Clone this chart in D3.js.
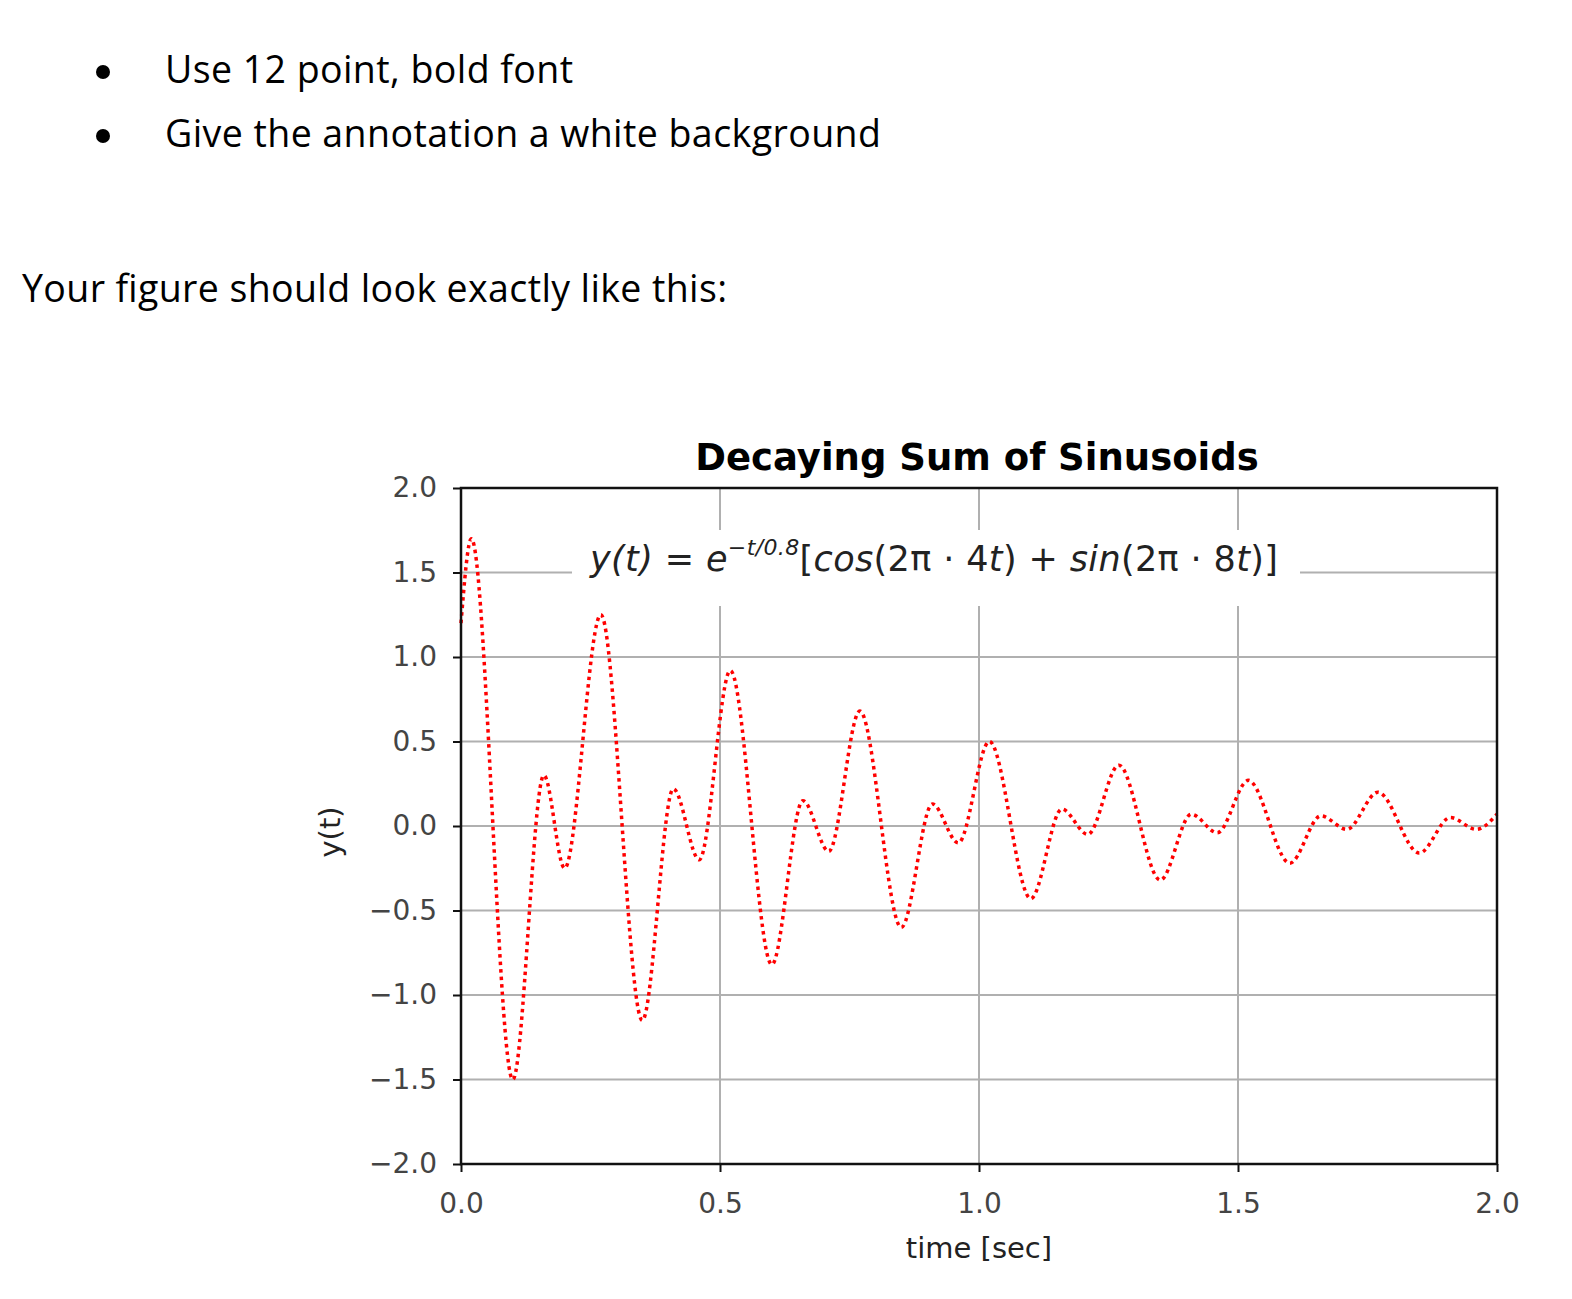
<!DOCTYPE html>
<html>
<head>
<meta charset="utf-8">
<script src="https://cdn.jsdelivr.net/npm/d3@7"></script>
<style>
  body { margin: 0; background: #fff; }
</style>
</head>
<body>
<div class="canvas"></div>
<script>
// Values (peaks and troughs of the curve)
const times = [0, 0.02, 0.1, 0.16, 0.2, 0.27, 0.35, 0.41, 0.46, 0.52, 0.6, 0.66, 0.71, 0.77, 0.85,
  0.91, 0.96, 1.02, 1.1, 1.16, 1.21, 1.27, 1.35, 1.41, 1.46, 1.52, 1.6, 1.66, 1.71, 1.77, 1.85,
  1.91, 1.96, 2.0];
const values = [1.2, 1.7, -1.5, 0.3, -0.25, 1.25, -1.15, 0.22, -0.2, 0.92, -0.82, 0.15, -0.15, 0.68, -0.6,
  0.13, -0.1, 0.5, -0.43, 0.1, -0.05, 0.36, -0.32, 0.07, -0.04, 0.27, -0.22, 0.06, -0.02, 0.2, -0.16,
  0.05, -0.02, 0.07];
const xTicks = [0, 0.5, 1.0, 1.5, 2.0];
const yTicks = [2.0, 1.5, 1.0, 0.5, 0.0, -0.5, -1.0, -1.5, -2.0];
const bullets = ['Use 12 point, bold font', 'Give the annotation a white background'];

const svg = d3.select('.canvas').append('svg')
  .attr('width', 1572)
  .attr('height', 1299);

const textFont = "'Open Sans', 'Liberation Sans', sans-serif";

// Document text above the figure
bullets.forEach((b, i) => {
  svg.append('circle')
    .attr('cx', 103).attr('cy', 72 + i * 64).attr('r', 7).attr('fill', '#000');
  svg.append('text')
    .attr('x', 165).attr('y', 83 + i * 64)
    .style('font-family', textFont).style('font-size', '37.5px')
    .attr('textLength', i === 0 ? 408 : 716)
    .text(b);
});
svg.append('text')
  .attr('x', 22).attr('y', 302)
  .style('font-family', textFont).style('font-size', '37.5px')
  .attr('textLength', 705)
  .text('Your figure should look exactly like this:');

// Chart
const x = d3.scaleLinear().domain([0, 2]).range([461, 1497]);
const y = d3.scaleLinear().domain([-2, 2]).range([1164, 488]);
const tickFont = "'DejaVu Sans', sans-serif";
const fmt = d3.format('.1f');

// Grid
svg.append('g').selectAll('line').data(xTicks).join('line')
  .attr('x1', d => x(d)).attr('x2', d => x(d))
  .attr('y1', 488).attr('y2', 1164)
  .attr('stroke', '#b0b0b0').attr('stroke-width', 2);
svg.append('g').selectAll('line').data(yTicks).join('line')
  .attr('x1', 461).attr('x2', 1497)
  .attr('y1', d => y(d)).attr('y2', d => y(d))
  .attr('stroke', '#b0b0b0').attr('stroke-width', 2);

// Annotation with white background
svg.append('rect')
  .attr('x', 572).attr('y', 530).attr('width', 728).attr('height', 76)
  .attr('fill', '#fff');
const ann = svg.append('text')
  .attr('x', 590).attr('y', 571)
  .style('font-family', "'DejaVu Sans', sans-serif").style('font-size', '35px')
  .attr('fill', '#222')
  .attr('textLength', 688);
ann.append('tspan').style('font-style', 'italic').text('y(t)');
ann.append('tspan').text(' = ');
ann.append('tspan').style('font-style', 'italic').text('e');
ann.append('tspan').attr('dy', -16).style('font-size', '22px').style('font-style', 'italic').text('−t/0.8');
ann.append('tspan').attr('dy', 16).text('[');
ann.append('tspan').style('font-style', 'italic').text('cos');
ann.append('tspan').text('(2π · 4');
ann.append('tspan').style('font-style', 'italic').text('t');
ann.append('tspan').text(') + ');
ann.append('tspan').style('font-style', 'italic').text('sin');
ann.append('tspan').text('(2π · 8');
ann.append('tspan').style('font-style', 'italic').text('t');
ann.append('tspan').text(')]');

// Curve
const pts = times.map((t, i) => [t, values[i]]);
svg.append('path')
  .datum(pts)
  .attr('d', d3.line().x(d => x(d[0])).y(d => y(d[1])).curve(d3.curveMonotoneX))
  .attr('fill', 'none')
  .attr('stroke', 'red')
  .attr('stroke-width', 3.5)
  .attr('stroke-dasharray', '3.5,4');

// Frame
svg.append('rect')
  .attr('x', 461).attr('y', 488).attr('width', 1036).attr('height', 676)
  .attr('fill', 'none').attr('stroke', '#111').attr('stroke-width', 2.5);

// Axes
const xAxis = svg.append('g').attr('transform', 'translate(0,1164)')
  .call(d3.axisBottom(x).tickValues(xTicks).tickFormat(fmt).tickSize(8).tickPadding(12).tickSizeOuter(0));
const yAxis = svg.append('g').attr('transform', 'translate(461,0)')
  .call(d3.axisLeft(y).tickValues(yTicks).tickFormat(d => fmt(d).replace('-', '−')).tickSize(8).tickPadding(16).tickSizeOuter(0));
[xAxis, yAxis].forEach(a => {
  a.select('.domain').remove();
  a.selectAll('line').attr('stroke', '#111').attr('stroke-width', 2);
  a.selectAll('text').style('font-family', tickFont).style('font-size', '28px').attr('fill', '#444');
});
xAxis.selectAll('text').attr('dy', '1.05em');

// Labels
svg.append('text')
  .attr('x', 977).attr('y', 470).attr('text-anchor', 'middle')
  .style('font-family', "'DejaVu Sans', sans-serif").style('font-weight', 'bold').style('font-size', '37px')
  .text('Decaying Sum of Sinusoids');
svg.append('text')
  .attr('x', 979).attr('y', 1258).attr('text-anchor', 'middle')
  .style('font-family', tickFont).style('font-size', '29px').attr('fill', '#222')
  .text('time [sec]');
svg.append('text')
  .attr('transform', 'translate(340,832) rotate(-90)').attr('text-anchor', 'middle')
  .style('font-family', tickFont).style('font-size', '29px').attr('fill', '#222')
  .text('y(t)');
</script>
</body>
</html>
